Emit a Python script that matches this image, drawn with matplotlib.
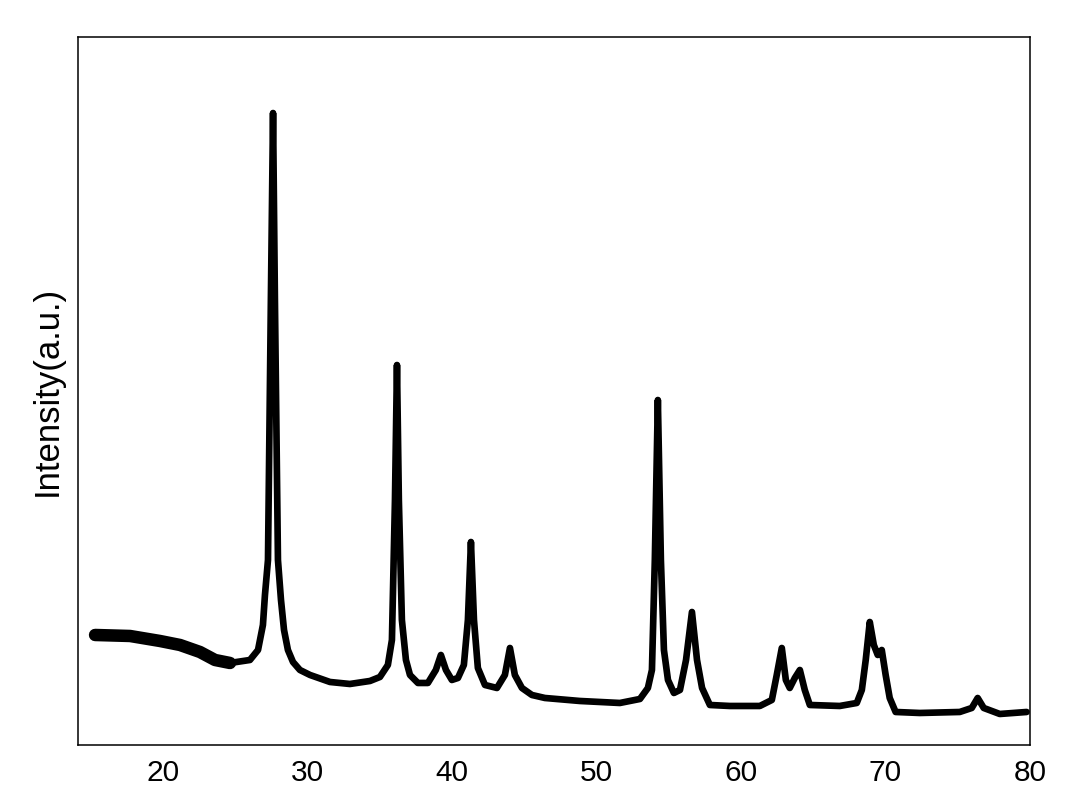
import numpy as np
import matplotlib
matplotlib.use("Agg")
from matplotlib import pyplot as plt

# 2-theta (deg) and intensity (a.u.)
two_theta = [15.28, 17.70, 19.77, 21.16, 22.54, 23.58, 24.62, 26.00, 26.56, 26.90,
             27.04, 27.25, 27.45, 27.60, 27.73, 27.94, 28.15, 28.36, 28.63, 28.98,
             29.46, 30.16, 31.54, 32.92, 34.31, 35.00, 35.55, 35.83, 36.04, 36.18,
             36.31, 36.52, 36.80, 37.08, 37.63, 38.32, 38.87, 39.22, 39.57, 39.98,
             40.40, 40.81, 41.09, 41.30, 41.51, 41.78, 42.27, 43.10, 43.65, 44.00,
             44.34, 44.83, 45.52, 46.42, 48.84, 51.61, 53.00, 53.55, 53.83, 54.03,
             54.24, 54.45, 54.66, 54.94, 55.35, 55.77, 56.19, 56.60, 56.95, 57.30,
             57.84, 59.22, 61.30, 62.13, 62.47, 62.82, 63.10, 63.37, 63.72, 64.07,
             64.41, 64.76, 66.83, 68.01, 68.36, 68.63, 68.91, 69.19, 69.46, 69.74,
             70.01, 70.29, 70.70, 72.37, 75.14, 75.97, 76.38, 76.80, 77.91, 79.77]
intensity = [110, 109, 104, 100, 93, 85, 82, 85, 95, 120,
             150, 185, 445, 632, 445, 185, 145, 115, 95, 83,
             75, 70, 63, 61, 64, 68, 80, 105, 245, 380,
             245, 125, 85, 70, 62, 62, 75, 90, 75, 65,
             67, 80, 125, 203, 125, 77, 60, 57, 70, 97,
             70, 57, 50, 47, 44, 42, 46, 57, 75, 185,
             345, 185, 95, 65, 52, 55, 85, 133, 85, 57,
             40, 39, 39, 45, 70, 97, 65, 57, 67, 75,
             55, 40, 39, 42, 55, 85, 123, 100, 90, 95,
             70, 47, 33, 32, 33, 37, 47, 37, 31, 33]

x_ticks = [20, 30, 40, 50, 60, 70, 80]

plt.rcParams['font.family'] = ['Liberation Sans', 'DejaVu Sans']

fig = plt.figure(figsize=(10.66, 7.96), dpi=100)
ax = fig.add_axes([0.0732, 0.0641, 0.8930, 0.8894])

ax.plot(two_theta, intensity, color='black', lw=4.8,
        solid_joinstyle='round', solid_capstyle='round')
# the noisy low-angle background looks like a thicker band
ax.plot(two_theta[:7], intensity[:7], color='black', lw=9,
        solid_joinstyle='round', solid_capstyle='round')

ax.set_xlim(14.1, 80)
ax.set_ylim(0, 708)
ax.set_xticks(x_ticks)
ax.set_yticks([])
ax.tick_params(axis='x', length=0, pad=10, labelsize=21.5)
for sp in ax.spines.values():
    sp.set_linewidth(1.1)

ax.set_ylabel("Intensity(a.u.)", fontsize=25, labelpad=10)

fig.savefig("out.png", dpi=100)
